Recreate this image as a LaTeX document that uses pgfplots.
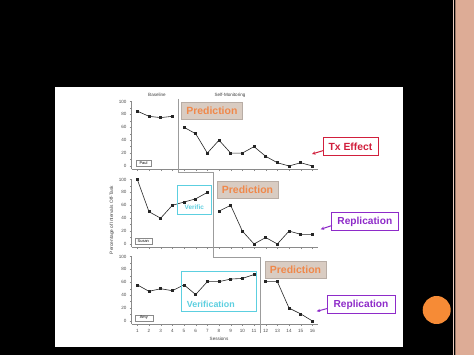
\documentclass[border=0pt]{standalone}
\usepackage{pgfplots}
\pgfplotsset{compat=1.18}
\usepackage{fontspec}
\setmainfont{Liberation Sans}
\usetikzlibrary{arrows.meta}
\definecolor{predfill}{HTML}{D9CCC2}
\definecolor{predtext}{HTML}{F0884A}
\definecolor{verif}{HTML}{5CCFE0}
\definecolor{txred}{HTML}{D11F3C}
\definecolor{repl}{HTML}{8E2BC9}
\definecolor{orangec}{HTML}{F68B36}
\definecolor{band}{HTML}{DDAC96}
\definecolor{axgray}{HTML}{8A8A8A}
\pgfplotsset{panel/.style={
  scale only axis, width=186.7bp, height=67.7bp,
  xmin=0.5, xmax=16.5, ymin=-5, ymax=100,
  axis x line*=bottom, axis y line*=left,
  axis line style={axgray, line width=0.4pt},
  xtick={1,...,16}, ytick={0,20,...,100}, minor ytick={10,30,50,70,90},
  tick align=outside, major tick length=2bp, minor tick length=1.5bp,
  tick style={axgray, line width=0.3pt},
  tick label style={font=\fontsize{4.6}{5}\selectfont, text=black!70},
  yticklabel style={xshift=0.5bp},
  /pgf/number format/assume math mode=true,
  anchor=south west, clip=false,
},
dat/.style={black!85, line width=0.6bp, mark=square*, mark size=1bp, mark options={solid, fill=black!85}}}
\begin{document}
\begin{tikzpicture}
\useasboundingbox (0,0) rectangle (474bp,355bp);
\fill[black] (0,0) rectangle (474bp,355bp);
\fill[white] (55bp,8bp) rectangle (403bp,268bp);
\fill[band] (456bp,0) rectangle (474bp,355bp);
\draw[band!60!white, line width=0.8bp] (453.8bp,0) -- (453.8bp,355bp);
\draw[band!70!black, line width=0.5bp] (455.3bp,0) -- (455.3bp,355bp);
\fill[orangec] (436.7bp,45bp) circle (14bp);

% Paul
\begin{axis}[panel, at={(131.5bp,185.8bp)}, xticklabels={}]
\addplot[dat] coordinates {(1,85)(2,77)(3,75)(4,77)};
\addplot[dat] coordinates {(5,60)(6,50)(7,20)(8,40)(9,20)(10,20)(11,30)(12,15)(13,5)(14,0)(15,5)(16,0)};
\end{axis}
% Susan
\begin{axis}[panel, at={(131.5bp,107.8bp)}, xticklabels={}]
\addplot[dat] coordinates {(1,100)(2,50)(3,40)(4,60)(5,65)(6,70)(7,80)};
\addplot[dat] coordinates {(8,51)(9,60)(10,20)(11,0)(12,10)(13,0)(14,20)(15,15)(16,15)};
\end{axis}
% Amy
\begin{axis}[panel, at={(131.5bp,30.8bp)}]
\addplot[dat] coordinates {(1,56)(2,46)(3,50)(4,47)(5,56)(6,41)(7,61)(8,61)(9,65)(10,66)(11,72)};
\addplot[dat] coordinates {(12,61)(13,61)(14,20)(15,11)(16,0)};
\end{axis}

% phase change line
\draw[axgray!85, line width=0.7bp] (178.2bp,256bp) -- (178.2bp,183bp) -- (213.2bp,183bp) -- (213.2bp,98bp) -- (259.9bp,98bp) -- (259.9bp,22bp);

% texts
\node[font=\fontsize{4.6}{5}\selectfont, text=black!75] at (157bp,260bp) {Baseline};
\node[font=\fontsize{4.6}{5}\selectfont, text=black!75] at (230bp,260bp) {Self-Monitoring};
\node[font=\fontsize{4.6}{5}\selectfont, text=black!75] at (219bp,16.5bp) {Sessions};
\node[font=\fontsize{4.8}{5}\selectfont, text=black!75, rotate=90] at (112bp,135bp) {Percentage of Intervals Off-Task};

\node[draw=axgray, line width=0.3bp, fill=white, font=\fontsize{4}{4.5}\selectfont, minimum width=14.7bp, minimum height=6bp, inner sep=0.5bp] at (143.5bp,192bp) {Paul};
\node[draw=axgray, line width=0.3bp, fill=white, font=\fontsize{4}{4.5}\selectfont, minimum width=16.7bp, minimum height=6bp, inner sep=0.5bp] at (143.3bp,114bp) {Susan};
\node[draw=axgray, line width=0.3bp, fill=white, font=\fontsize{4}{4.5}\selectfont, minimum width=17.7bp, minimum height=6bp, inner sep=0.5bp] at (143.8bp,37bp) {Amy};

% prediction boxes
\tikzset{pred/.style={fill=predfill, draw=predfill!85!black, line width=0.3bp, text=predtext, font=\fontsize{10.5}{12}\selectfont\bfseries, minimum width=61.5bp, minimum height=17bp, inner sep=0}}
\node[pred] at (211.85bp,244bp) {Prediction};
\node[pred] at (247.5bp,165.2bp) {Prediction};
\node[pred] at (295.5bp,85.2bp) {Prediction};

% verification boxes
\draw[verif, line width=0.8bp] (177bp,141bp) rectangle (211.7bp,170bp);
\node[text=verif, font=\fontsize{6.4}{7}\selectfont\bfseries] at (194.3bp,147.5bp) {Verific};
\draw[verif, line width=0.8bp] (181.7bp,43.3bp) rectangle (256.7bp,83.3bp);
\node[text=verif, font=\fontsize{8.9}{10}\selectfont\bfseries] at (210.8bp,51bp) {Verification};

% Tx effect & replication
\node[draw=txred, line width=0.6bp, text=txred, font=\fontsize{10.4}{12}\selectfont\bfseries, minimum width=55bp, minimum height=18bp, inner sep=0] at (350.5bp,208.3bp) {Tx Effect};
\draw[txred, line width=1bp, -{Stealth[length=3.5bp,width=3.2bp]}] (323.5bp,204.5bp) -- (312bp,201bp);
\node[draw=repl, line width=0.6bp, text=repl, font=\fontsize{10.2}{12}\selectfont\bfseries, minimum width=66.3bp, minimum height=18bp, inner sep=0] at (364.85bp,133.3bp) {Replication};
\draw[repl, line width=1bp, -{Stealth[length=3.5bp,width=3.2bp]}] (332bp,129.5bp) -- (320.7bp,125.7bp);
\node[draw=repl, line width=0.6bp, text=repl, font=\fontsize{10.2}{12}\selectfont\bfseries, minimum width=68bp, minimum height=17.6bp, inner sep=0] at (361bp,50.5bp) {Replication};
\draw[repl, line width=1bp, -{Stealth[length=3.5bp,width=3.2bp]}] (327.3bp,46.5bp) -- (316.7bp,43.7bp);
\end{tikzpicture}
\end{document}
